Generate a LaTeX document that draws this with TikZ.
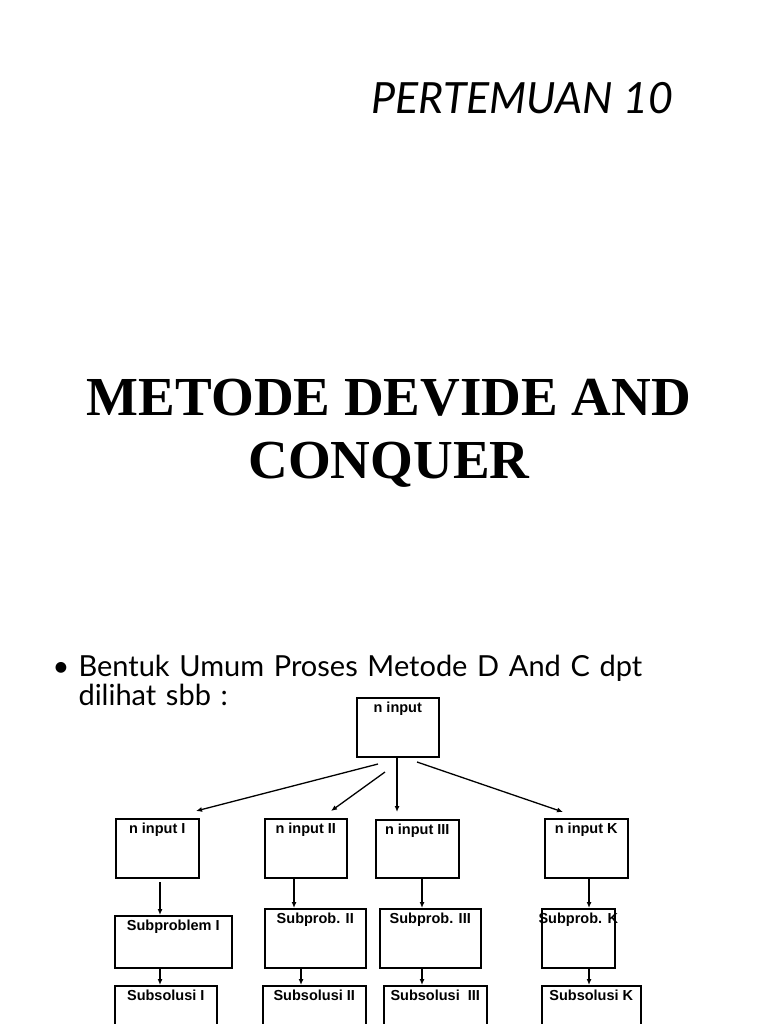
\documentclass[tikz,border=0pt]{standalone}
\usepackage{fontspec}
\setmainfont{Liberation Serif}
\newfontfamily\boxf{Liberation Sans}
\newfontfamily\gothic{Lato}
\usetikzlibrary{arrows.meta}
\begin{document}
\begin{tikzpicture}[x=1pt,y=-1pt,
  bx/.style={draw,line width=1.5pt,inner sep=0pt},
  bt/.style={font=\boxf\bfseries\fontsize{14.5}{16}\selectfont,anchor=north,inner sep=0pt},
  ar/.style={-{Latex[length=6pt,width=5pt]},line width=1.3pt}]
\useasboundingbox (0,0) rectangle (768,1024);
\node[font=\gothic\itshape\fontsize{43}{48}\selectfont,anchor=base west] (pt) at (368,114) {PERTEMUAN 10};
\node[font=\bfseries\fontsize{55}{63}\selectfont,align=center] (title) at (389,433) {METODE DEVIDE AND\\CONQUER};
\node[font=\gothic\fontsize{29}{29}\selectfont,anchor=base west,align=left,text width=640] (bul) at (75,676) {\raggedright\makebox[0pt][r]{\textbullet\hspace{9pt}}Bentuk Umum Proses Metode D And C dpt\\dilihat sbb :};
\newcommand\mybox[6]{%
  \node[bx,minimum width={#4-#2},minimum height={#5-#3},anchor=north west] (#1) at (#2,#3) {};
  \node[bt] (#1t) at ([yshift=-5pt]#1.north) {#6};}
\mybox{root}{356}{697}{438}{756}{n input}
\mybox{a}{115}{818}{198}{877}{n input I}
\mybox{b}{264}{818}{346}{877}{n input II}
\mybox{c}{375}{819}{458}{877}{n input III}
\mybox{d}{544}{818}{627}{877}{n input K}
\mybox{sa}{114}{915}{231}{967}{Subproblem I}
\mybox{sb}{264}{908}{365}{967}{Subprob. II}
\mybox{sc}{379}{908}{480}{967}{Subprob. III}
\mybox{sd}{541}{908}{614}{967}{Subprob. K}
\mybox{ta}{114}{985}{216}{1040}{Subsolusi I}
\mybox{tb}{262}{985}{365}{1040}{Subsolusi II}
\mybox{tc}{383}{985}{486}{1040}{Subsolusi\ \ III}
\mybox{td}{541}{985}{640}{1040}{Subsolusi K}
\foreach \v in {160,294,301,397,422,589} {\coordinate (x\v) at (\v,0);}
\coordinate (r1) at (378,764); \coordinate (r2) at (385,772); \coordinate (r4) at (417,762);
\coordinate (e1) at (196,811); \coordinate (e2) at (331,811); \coordinate (e3) at (397,812); \coordinate (e4) at (563,812);
\coordinate (s1) at (160,882);
\draw[ar] (r1) -- (e1);
\draw[ar] (r2) -- (e2);
\draw[ar] (root.south -| x397) -- (e3);
\draw[ar] (r4) -- (e4);
\draw[ar] (s1) -- (sa.north -| x160);
\draw[ar] (b.south -| x294) -- (sb.north -| x294);
\draw[ar] (c.south -| x422) -- (sc.north -| x422);
\draw[ar] (d.south -| x589) -- (sd.north -| x589);
\draw[ar] (sa.south -| x160) -- (ta.north -| x160);
\draw[ar] (sb.south -| x301) -- (tb.north -| x301);
\draw[ar] (sc.south -| x422) -- (tc.north -| x422);
\draw[ar] (sd.south -| x589) -- (td.north -| x589);
\end{tikzpicture}
\end{document}
